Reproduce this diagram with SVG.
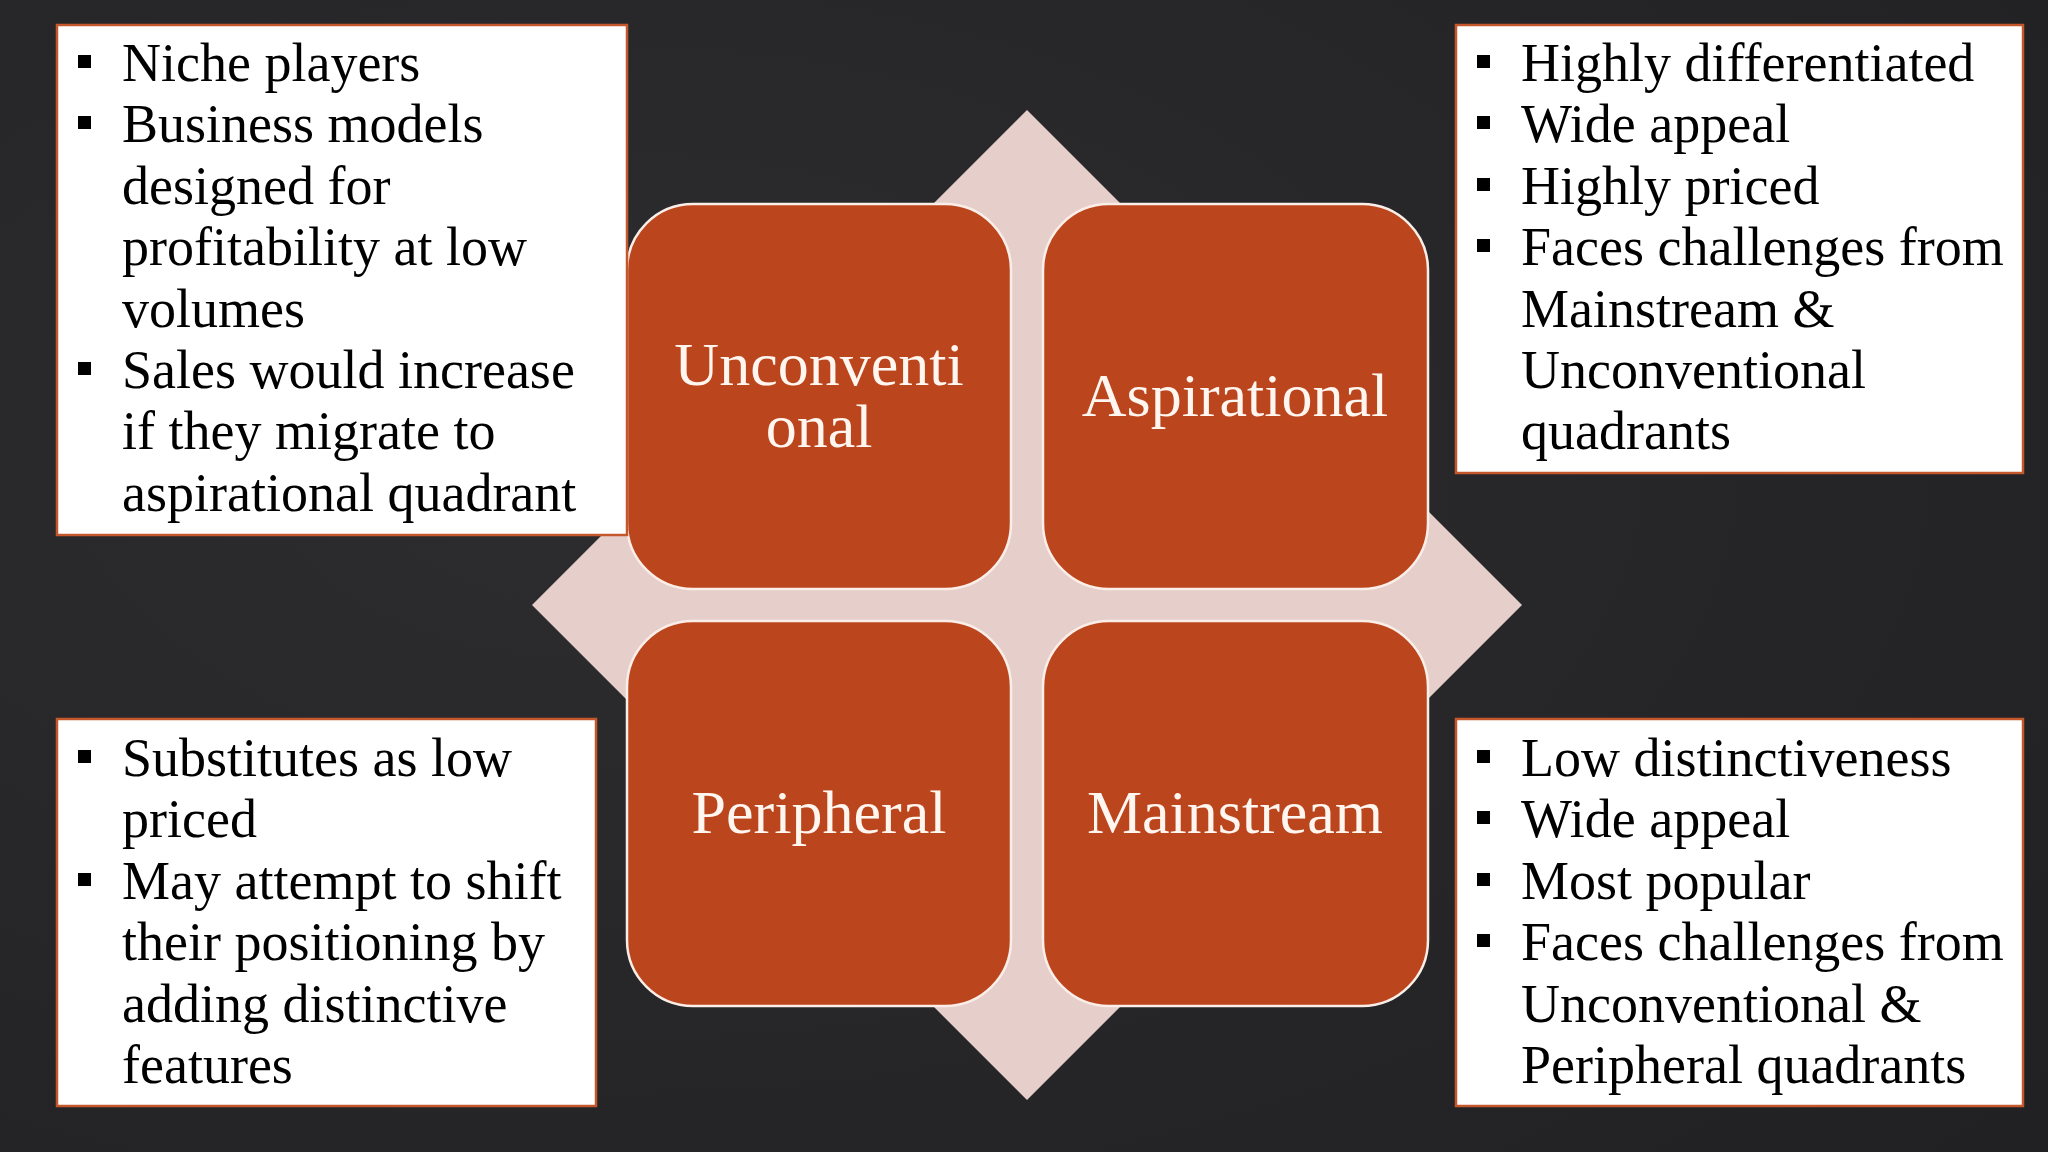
<svg xmlns="http://www.w3.org/2000/svg" width="2048" height="1152" viewBox="0 0 2048 1152">
<defs>
<style>
.note{fill:#ffffff;stroke:#c4582c;stroke-width:2.5}
.quad{fill:#bb451d;stroke:#fbeee8;stroke-width:2.5}
.diamond{fill:#e6cfcb}
.lbl{font-family:"Liberation Serif","Times New Roman",serif;font-size:62px;fill:#fff6f0;text-anchor:middle}
.txt{font-family:"Liberation Serif","Times New Roman",serif;font-size:54px;fill:#000}
.bul{fill:#000}
</style>
<radialGradient id="bgg" cx="0.3" cy="0.4" r="0.9">
<stop offset="0" stop-color="#2d2d30"/>
<stop offset="1" stop-color="#212123"/>
</radialGradient>
</defs>
<rect width="2048" height="1152" fill="url(#bgg)"/>
<g id="diamond">
<polygon class="diamond" points="1027,110 1522,605 1027,1100 532,605"/>
</g>
<g id="connectors"></g>
<g id="quad-unconventional">
<rect class="quad" x="627" y="204" width="384" height="385" rx="66"/>
<text class="lbl" x="819" y="385">Unconventi</text>
<text class="lbl" x="819" y="447">onal</text>
</g>
<g id="quad-aspirational">
<rect class="quad" x="1043" y="204" width="385" height="385" rx="66"/>
<text class="lbl" x="1235" y="416">Aspirational</text>
</g>
<g id="quad-peripheral">
<rect class="quad" x="627" y="621" width="384" height="385" rx="66"/>
<text class="lbl" x="819" y="833">Peripheral</text>
</g>
<g id="quad-mainstream">
<rect class="quad" x="1043" y="621" width="385" height="385" rx="66"/>
<text class="lbl" x="1235" y="833">Mainstream</text>
</g>
<g id="note-unconventional">
<rect class="note" x="57" y="25" width="570" height="510"/>
<rect class="bul" x="78" y="55" width="13" height="13"/>
<rect class="bul" x="78" y="116" width="13" height="13"/>
<rect class="bul" x="78" y="362" width="13" height="13"/>
<text class="txt" x="122" y="81">Niche players</text>
<text class="txt" x="122" y="142">Business models</text>
<text class="txt" x="122" y="204">designed for</text>
<text class="txt" x="122" y="265">profitability at low</text>
<text class="txt" x="122" y="327">volumes</text>
<text class="txt" x="122" y="388">Sales would increase</text>
<text class="txt" x="122" y="449">if they migrate to</text>
<text class="txt" x="122" y="511">aspirational quadrant</text>
</g>
<g id="note-aspirational">
<rect class="note" x="1456" y="25" width="567" height="448"/>
<rect class="bul" x="1477" y="55" width="13" height="13"/>
<rect class="bul" x="1477" y="116" width="13" height="13"/>
<rect class="bul" x="1477" y="178" width="13" height="13"/>
<rect class="bul" x="1477" y="239" width="13" height="13"/>
<text class="txt" x="1521" y="81">Highly differentiated</text>
<text class="txt" x="1521" y="142">Wide appeal</text>
<text class="txt" x="1521" y="204">Highly priced</text>
<text class="txt" x="1521" y="265">Faces challenges from</text>
<text class="txt" x="1521" y="327">Mainstream &amp;</text>
<text class="txt" x="1521" y="388">Unconventional</text>
<text class="txt" x="1521" y="449">quadrants</text>
</g>
<g id="note-peripheral">
<rect class="note" x="57" y="719" width="539" height="387"/>
<rect class="bul" x="78" y="750" width="13" height="13"/>
<rect class="bul" x="78" y="873" width="13" height="13"/>
<text class="txt" x="122" y="776">Substitutes as low</text>
<text class="txt" x="122" y="837">priced</text>
<text class="txt" x="122" y="899">May attempt to shift</text>
<text class="txt" x="122" y="960">their positioning by</text>
<text class="txt" x="122" y="1022">adding distinctive</text>
<text class="txt" x="122" y="1083">features</text>
</g>
<g id="note-mainstream">
<rect class="note" x="1456" y="719" width="567" height="387"/>
<rect class="bul" x="1477" y="750" width="13" height="13"/>
<rect class="bul" x="1477" y="811" width="13" height="13"/>
<rect class="bul" x="1477" y="873" width="13" height="13"/>
<rect class="bul" x="1477" y="934" width="13" height="13"/>
<text class="txt" x="1521" y="776">Low distinctiveness</text>
<text class="txt" x="1521" y="837">Wide appeal</text>
<text class="txt" x="1521" y="899">Most popular</text>
<text class="txt" x="1521" y="960">Faces challenges from</text>
<text class="txt" x="1521" y="1022">Unconventional &amp;</text>
<text class="txt" x="1521" y="1083">Peripheral quadrants</text>
</g>
</svg>
